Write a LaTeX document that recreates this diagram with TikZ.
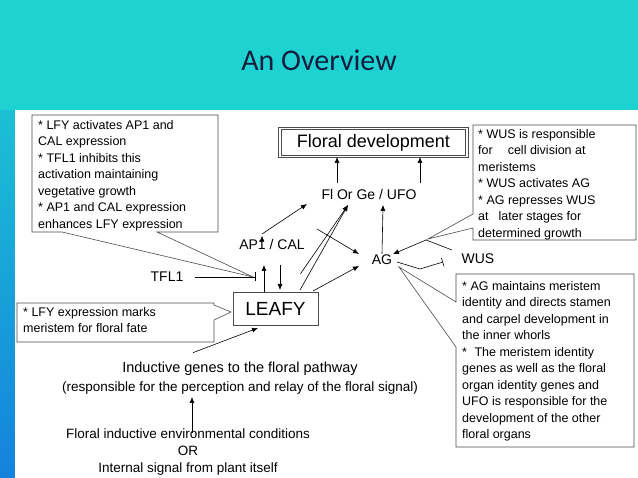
\documentclass[tikz,border=0pt]{standalone}
\usepackage{fontspec}
\setmainfont{Liberation Sans}
\newfontfamily\titlefont{Carlito}
\usetikzlibrary{arrows.meta}
\definecolor{teal1}{RGB}{30,210,210}
\definecolor{blue1}{RGB}{20,130,220}
\definecolor{navy}{RGB}{20,30,60}
\begin{document}
\begin{tikzpicture}[x=1pt,y=-1pt,
  lbl/.style={font=\fontsize{14}{17}\selectfont,inner sep=1pt},
  note/.style={font=\fontsize{12.5}{16.5}\selectfont,align=left,anchor=north west,inner sep=0pt},
  co/.style={draw=black!70,fill=white,line width=0.6pt},
  ar/.style={-{Latex[length=6pt,width=5pt]},line width=0.6pt},
  inh/.style={-{Bar[width=9pt]},line width=0.6pt},
  ln/.style={line width=0.6pt}]
\useasboundingbox (0,0) rectangle (638,478);
\shade[top color=teal1,bottom color=blue1] (0,0) rectangle (638,478);
\fill[teal1] (0,0) rectangle (638,110);
\fill[white] (15,110) rectangle (638,478);
\node[font=\titlefont\fontsize{30}{34}\selectfont,text=navy] (title) at (319,60) {An Overview};
% callout 1
\draw[co] (32,115) -- (218,115) -- (218,232) -- (157,232) -- (253,277) -- (62,232) -- (32,232) -- cycle;
\node[note] (n1) at (38,120) {* LFY activates AP1 and\\CAL expression\\* TFL1 inhibits this\\activation maintaining\\vegetative growth\\* AP1 and CAL expression\\enhances LFY expression};
% callout WUS
\draw[co] (473,125) -- (636,125) -- (636,240) -- (473,240) -- (473,228) -- (428,239) -- (473,214) -- cycle;
\node[note] (n2) at (478,129) {* WUS is responsible\\for\hspace{1.2em}cell division at\\meristems\\* WUS activates AG\\* AG represses WUS\\at\hspace{0.8em}later stages for\\determined growth};
% callout LFY
\draw[co] (17,303) -- (214,303) -- (214,305) -- (231,312) -- (214,320) -- (214,342) -- (17,342) -- cycle;
\node[note] (n3) at (23,307) {* LFY expression marks\\meristem for floral fate};
% callout AG
\draw[co] (456,274) -- (634,274) -- (634,447) -- (456,447) -- (456,347) -- (399,267) -- (456,302) -- cycle;
\node[note] (n4) at (462,281) {* AG maintains meristem\\identity and directs stamen\\and carpel development in\\the inner whorls\\*\hspace{0.6em}The meristem identity\\genes as well as the floral\\organ identity genes and\\UFO is responsible for the\\development of the other\\floral organs};
% main nodes
\node[draw=black!70,double=white,double distance=1.5pt,line width=1pt,minimum width=187pt,minimum height=28pt,font=\fontsize{18}{20}\selectfont] (fd) at (373.5,142.5) {Floral development};
\node[lbl] (fog) at (369,194) {Fl Or Ge / UFO};
\node[lbl] (ap) at (272,244) {AP1 / CAL};
\node[lbl] (ag) at (382,260) {AG};
\node[lbl] (wus) at (478,259) {WUS};
\node[lbl] (tfl) at (167,277) {TFL1};
\node[draw=black!70,line width=0.6pt,minimum width=85pt,minimum height=33pt,font=\fontsize{19}{21}\selectfont] (lfy) at (275.5,308.5) {LEAFY};
\node[lbl,align=center,font=\fontsize{14.5}{18}\selectfont] (ind) at (240,378) {Inductive genes to the floral pathway\\[1pt]{\fontsize{13.5}{16}\selectfont(responsible for the perception and relay of the floral signal)}};
\node[lbl,align=center,font=\fontsize{13.5}{17}\selectfont] (env) at (188,452) {Floral inductive environmental conditions\\OR\\Internal signal from plant itself};
% connectors
\coordinate (a1) at (337,183); \coordinate (a2) at (420,183);
\draw[ar] (a1) -- (fd.south -| a1);
\draw[ar] (a2) -- (fd.south -| a2);
\draw[ar] (ap.north) ++(-10,-2) coordinate (apn) ; \draw[ar] (262,234) -- (307,204);
\draw[ar] (lfy.north) ++(25,-18) -- (348,205);
\draw[ar] (300,290) -- (348,205);
\draw[ar] (317,229) -- (359,254);
\draw[ar] (313,291) -- (359,266);
\draw[ar] (ag.north) -- (383,205);
\draw[inh] (tfl.east) ++(10,0) -- (256,277);
\draw[ar] (lfy.north -| 264,0) -- (264,265);
\draw[ar] (280,265) -- (280,290);
\draw[ar] (452,250) -- (426,240) -- (393,254);
\draw[inh] (397,262) -- (420,269) -- (443,262);
\draw[ar] (ind.north) ++(-47,-8) -- (258,328);
\draw[ar] (192,433) -- (192,397);
\end{tikzpicture}
\end{document}
